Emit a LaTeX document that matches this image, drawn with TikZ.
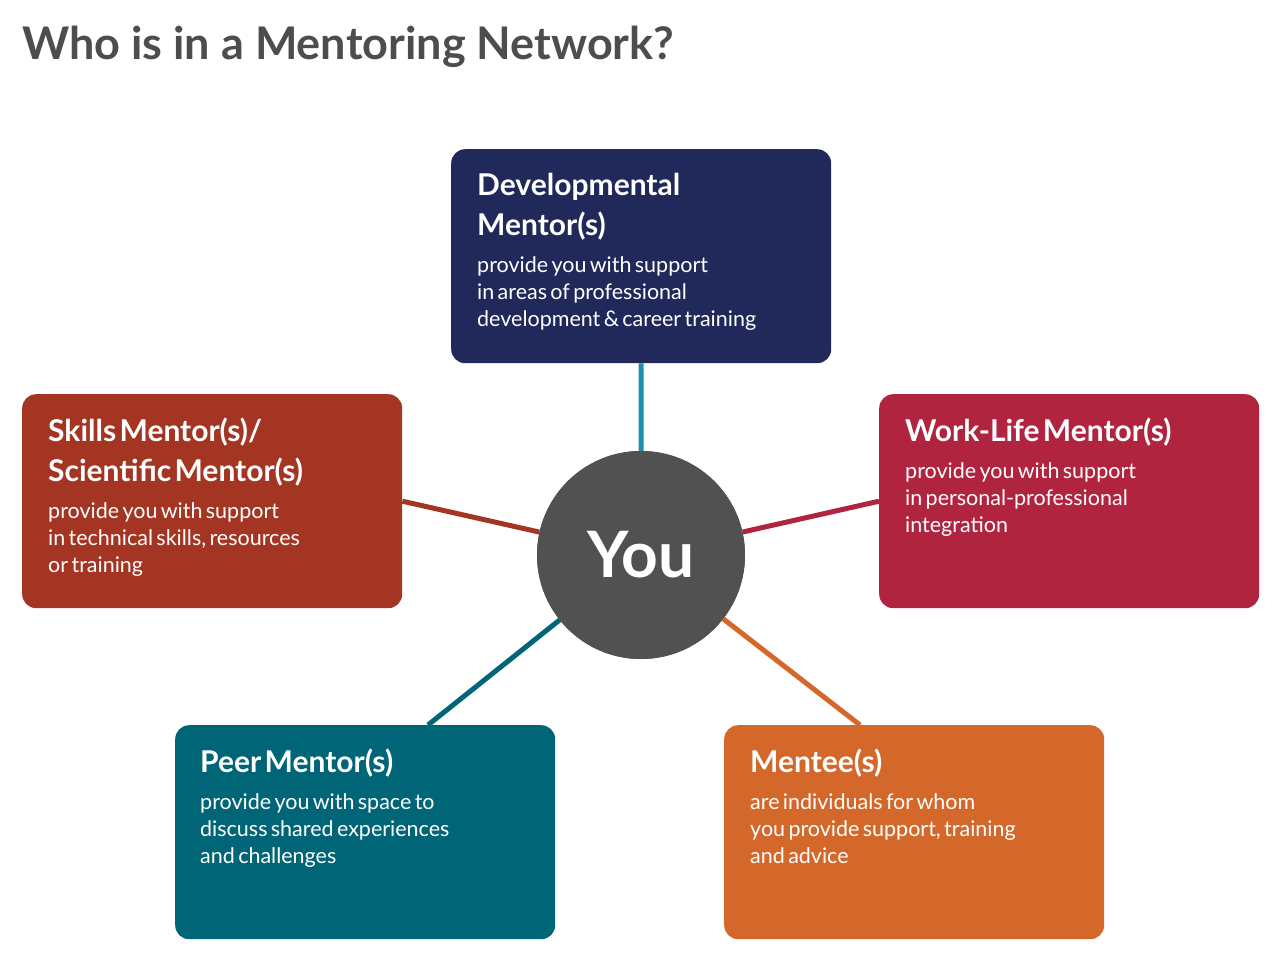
\documentclass[tikz,border=0pt]{standalone}
\usepackage{fontspec}
\setmainfont{Lato}
\definecolor{cdev}{HTML}{20295A}
\definecolor{cskill}{HTML}{A33522}
\definecolor{cwork}{HTML}{B1243F}
\definecolor{cpeer}{HTML}{006577}
\definecolor{cmentee}{HTML}{D4682A}
\definecolor{cyou}{HTML}{505150}
\definecolor{clink}{HTML}{1A8FAE}
\definecolor{ctitle}{HTML}{4D4D4D}
\newcommand\hd{\fontsize{30}{40}\selectfont\bfseries}
\newcommand\bd{\fontsize{21.5}{27}\selectfont}
\tikzset{
 box/.style={rounded corners=14pt,inner sep=0pt,minimum width=380pt,minimum height=214pt,anchor=north west},
 txt/.style={anchor=north west,align=left,inner sep=0pt,text=white,text width=350pt},
 youc/.style={circle,fill=cyou,minimum size=208pt,inner sep=0pt,text=white,font=\fontsize{64}{64}\selectfont\bfseries},
 link/.style={line width=5pt}
}
\begin{document}
\begin{tikzpicture}[x=1pt,y=-1pt]
\useasboundingbox (0,0) rectangle (1279,961);
\node[anchor=west,inner sep=0pt,text=ctitle,font=\fontsize{45}{50}\selectfont\bfseries] (title) at (22,47) {Who is in a Mentoring Network?};
\node[youc] (you) at (641,555) {};
\node[box,fill=cdev] (dev) at (451,149) {};
\node[box,fill=cskill] (skill) at (22,394) {};
\node[box,fill=cwork] (work) at (879,394) {};
\node[box,fill=cpeer] (peer) at (175,725) {};
\node[box,fill=cmentee] (mentee) at (724,725) {};
\coordinate (pa) at (428,725);
\coordinate (ma) at (860,725);
\draw[link,clink] (dev.south) -- (you);
\draw[link,cskill] (skill.east) -- (you);
\draw[link,cwork] (work.west) -- (you);
\draw[link,cpeer] (pa) -- (you);
\draw[link,cmentee] (ma) -- (you);
\node[youc] (youlabel) at (641,555) {You};
\node[txt] (t1) at (477,173) {{\hd Developmental\\Mentor(s)\par}\vspace{10pt}{\bd provide you with support\\in areas of professional\\development \& career training\par}};
\node[txt] (t2) at (48,418) {{\hd Skills Mentor(s)/\\Scientific Mentor(s)\par}\vspace{10pt}{\bd provide you with support\\in technical skills, resources\\or training\par}};
\node[txt] (t3) at (905,418) {{\hd Work-Life Mentor(s)\par}\vspace{10pt}{\bd provide you with support\\in personal-professional\\integration\par}};
\node[txt] (t4) at (200,749) {{\hd Peer Mentor(s)\par}\vspace{10pt}{\bd provide you with space to\\discuss shared experiences\\and challenges\par}};
\node[txt] (t5) at (750,749) {{\hd Mentee(s)\par}\vspace{10pt}{\bd are individuals for whom\\you provide support, training\\and advice\par}};
\end{tikzpicture}
\end{document}
